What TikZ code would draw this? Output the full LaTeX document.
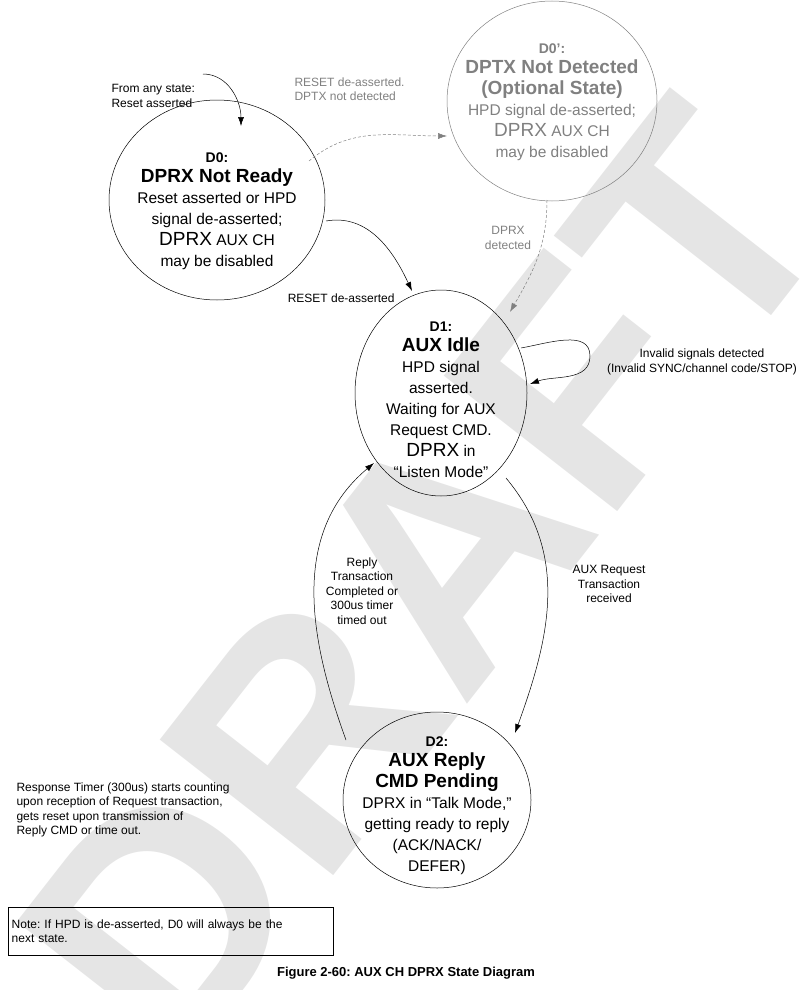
\documentclass[tikz,border=0pt]{standalone}
\usepackage{fontspec}
\setmainfont{Liberation Sans}
\usetikzlibrary{arrows.meta,shapes.geometric}
\frenchspacing
\begin{document}
\begin{tikzpicture}[x=1pt,y=-1pt,
    state/.style={draw, ellipse, line width=0.5pt},
    lbl/.style={align=center, font=\fontsize{12}{14.5}\selectfont},
    body/.style={font=\fontsize{15.5}{21}\selectfont},
    arr/.style={-{Latex[length=9pt,width=6pt]}, line width=0.5pt},
    garr/.style={-{Latex[length=9pt,width=6pt,fill=black!50]}, densely dashed, draw=black!50, line width=0.5pt}]
  \useasboundingbox (0,0) rectangle (809,990);
  % watermark
  \node[rotate=52, color=black!10, font=\bfseries\fontsize{320}{320}\selectfont] (wm) at (425,580) {DRAFT};

  % states
  \node[state, minimum width=216, minimum height=200] (D0) at (217,200) {};
  \node[state, draw=black!50, minimum width=210, minimum height=200] (D0p) at (552,101) {};
  \node[state, minimum width=172, minimum height=206] (D1) at (441,393) {};
  \node[state, minimum width=188, minimum height=176] (D2) at (437,800) {};

  \node[align=center, body] (t0) at (217,211) {{\bfseries\fontsize{14}{18}\selectfont D0:}\\[-1pt]
    {\bfseries\fontsize{19}{22}\selectfont DPRX Not Ready}\\Reset asserted or HPD\\signal de-asserted;\\{\fontsize{19}{21}\selectfont DPRX} AUX CH\\may be disabled};
  \node[align=center, body, text=black!50] (t0p) at (552,102) {{\bfseries\fontsize{14}{18}\selectfont D0':}\\[-1pt]
    {\bfseries\fontsize{19}{23}\selectfont DPTX Not Detected}\\{\bfseries\fontsize{19}{23}\selectfont (Optional State)}\\HPD signal de-asserted;\\{\fontsize{19}{21}\selectfont DPRX} AUX CH\\may be disabled};
  \node[align=center, body] (t1) at (441,400) {{\bfseries\fontsize{14}{18}\selectfont D1:}\\[-1pt]
    {\bfseries\fontsize{19}{22}\selectfont AUX Idle}\\HPD signal\\asserted.\\Waiting for AUX\\Request CMD.\\{\fontsize{19}{21}\selectfont DPRX} in\\``Listen Mode''};
  \node[align=center, body] (t2) at (437,806) {{\bfseries\fontsize{14}{18}\selectfont D2:}\\[-1pt]
    {\bfseries\fontsize{19}{22}\selectfont AUX Reply}\\{\bfseries\fontsize{19}{22}\selectfont CMD Pending}\\DPRX in ``Talk Mode,''\\getting ready to reply\\(ACK/NACK/\\DEFER)};

  % transitions
  \coordinate (start) at (203,74);
  \draw[arr] (start) to[out=0, in=90] (241,126);
  \node[lbl, align=left, anchor=west] (l0) at (108,96) {From any state:\\Reset asserted};

  \draw[garr] (309,161) to[out=40, in=180] (447,136);
  \node[lbl, align=left, anchor=west, text=black!50] (l1) at (291,89) {RESET de-asserted.\\DPTX not detected};

  \draw[garr] (547,200) to[out=-90, in=60] (510,312);
  \node[lbl, text=black!50] (l2) at (508,238) {DPRX\\detected};

  \draw[arr] (326,221) to[out=10, in=115] (412,291);
  \node[lbl, anchor=east] (l3) at (398,298) {RESET de-asserted};

  \draw[arr] (521,348) to[out=10, in=90] (590,356) to[out=-90, in=20] (530,384);
  \node[lbl] (l4) at (702,362) {Invalid signals detected\\(Invalid SYNC/channel code/STOP)};

  \draw[arr] (506,478) to[out=-50, in=70] (515,733);
  \node[lbl] (l5) at (609,584) {AUX Request\\Transaction\\received};

  \draw[arr] (346,740) to[out=110, in=-140] (374,463);
  \node[lbl] (l6) at (362,591) {Reply\\Transaction\\Completed or\\300us timer\\timed out};

  \node[lbl, align=left, anchor=west] (l7) at (13,810) {Response Timer (300us) starts counting\\upon reception of Request transaction,\\gets reset upon transmission of\\Reply CMD or time out.};

  \node[draw, lbl, align=left, anchor=north west, minimum width=325, minimum height=48, text width=318, inner sep=3pt, line width=0.5pt] (note) at (8,907) {Note: If HPD is de-asserted, D0 will always be the\\next state.};

  \node[font=\bfseries\fontsize{13}{15}\selectfont] (cap) at (406,973) {Figure 2-60: AUX CH DPRX State Diagram};
\end{tikzpicture}
\end{document}
